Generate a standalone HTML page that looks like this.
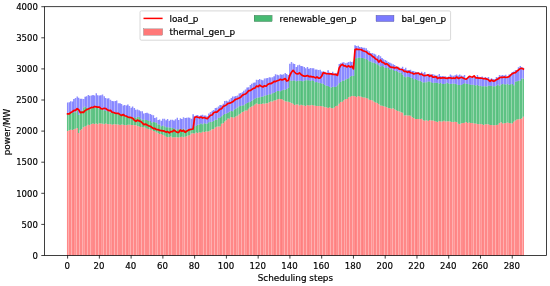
<!DOCTYPE html>
<html lang="en"><head><meta charset="utf-8"><title>Scheduling chart</title>
<style>html,body{margin:0;padding:0;background:#fff;overflow:hidden}body{width:550px;height:286px}</style>
</head><body>
<svg width="550" height="286" viewBox="0 0 550 286" style="display:block">
<rect x="0" y="0" width="550" height="286" fill="#fff"/>
<path d="M66.96 255.50V131.07H68.39V255.50zM68.39 255.50V130.28H69.98V255.50zM69.98 255.50V129.86H71.57V255.50zM71.57 255.50V129.95H73.16V255.50zM73.16 255.50V129.22H74.75V255.50zM74.75 255.50V128.70H76.33V255.50zM76.33 255.50V128.04H77.92V255.50zM77.92 255.50V132.92H79.51V255.50zM79.51 255.50V130.30H81.10V255.50zM81.10 255.50V129.04H82.69V255.50zM82.69 255.50V127.00H84.27V255.50zM84.27 255.50V126.54H85.86V255.50zM85.86 255.50V125.69H87.45V255.50zM87.45 255.50V124.78H89.04V255.50zM89.04 255.50V124.89H90.63V255.50zM90.63 255.50V123.98H92.21V255.50zM92.21 255.50V123.57H93.80V255.50zM93.80 255.50V124.06H95.39V255.50zM95.39 255.50V123.46H96.98V255.50zM96.98 255.50V124.15H98.57V255.50zM98.57 255.50V123.32H100.15V255.50zM100.15 255.50V123.44H101.74V255.50zM101.74 255.50V123.79H103.33V255.50zM103.33 255.50V124.26H104.92V255.50zM104.92 255.50V123.55H106.51V255.50zM106.51 255.50V124.05H108.09V255.50zM108.09 255.50V124.16H109.68V255.50zM109.68 255.50V124.08H111.27V255.50zM111.27 255.50V124.85H112.86V255.50zM112.86 255.50V124.25H114.45V255.50zM114.45 255.50V124.15H116.03V255.50zM116.03 255.50V124.42H117.62V255.50zM117.62 255.50V124.55H119.21V255.50zM119.21 255.50V124.97H120.80V255.50zM120.80 255.50V124.55H122.39V255.50zM122.39 255.50V124.76H123.97V255.50zM123.97 255.50V124.89H125.56V255.50zM125.56 255.50V125.14H127.15V255.50zM127.15 255.50V124.77H128.74V255.50zM128.74 255.50V124.72H130.33V255.50zM130.33 255.50V125.06H131.91V255.50zM131.91 255.50V124.97H133.50V255.50zM133.50 255.50V125.14H135.09V255.50zM135.09 255.50V125.36H136.68V255.50zM136.68 255.50V126.08H138.27V255.50zM138.27 255.50V126.52H139.85V255.50zM139.85 255.50V126.89H141.44V255.50zM141.44 255.50V127.05H143.03V255.50zM143.03 255.50V127.38H144.62V255.50zM144.62 255.50V127.76H146.21V255.50zM146.21 255.50V128.68H147.79V255.50zM147.79 255.50V129.00H149.38V255.50zM149.38 255.50V129.85H150.97V255.50zM150.97 255.50V129.86H152.56V255.50zM152.56 255.50V131.09H154.15V255.50zM154.15 255.50V131.57H155.73V255.50zM155.73 255.50V132.62H157.32V255.50zM157.32 255.50V133.20H158.91V255.50zM158.91 255.50V134.00H160.50V255.50zM160.50 255.50V133.92H162.09V255.50zM162.09 255.50V134.99H163.67V255.50zM163.67 255.50V135.81H165.26V255.50zM165.26 255.50V136.71H166.85V255.50zM166.85 255.50V137.26H168.44V255.50zM168.44 255.50V136.89H170.03V255.50zM170.03 255.50V136.55H171.61V255.50zM171.61 255.50V137.52H173.20V255.50zM173.20 255.50V137.36H174.79V255.50zM174.79 255.50V137.13H176.38V255.50zM176.38 255.50V137.27H177.97V255.50zM177.97 255.50V137.52H179.55V255.50zM179.55 255.50V136.93H181.14V255.50zM181.14 255.50V136.64H182.73V255.50zM182.73 255.50V137.30H184.32V255.50zM184.32 255.50V136.68H185.91V255.50zM185.91 255.50V136.17H187.49V255.50zM187.49 255.50V135.42H189.08V255.50zM189.08 255.50V135.10H190.67V255.50zM190.67 255.50V133.50H192.26V255.50zM192.26 255.50V133.29H193.85V255.50zM193.85 255.50V133.45H195.43V255.50zM195.43 255.50V132.62H197.02V255.50zM197.02 255.50V133.00H198.61V255.50zM198.61 255.50V132.17H200.20V255.50zM200.20 255.50V132.64H201.79V255.50zM201.79 255.50V131.80H203.37V255.50zM203.37 255.50V132.03H204.96V255.50zM204.96 255.50V131.49H206.55V255.50zM206.55 255.50V131.62H208.14V255.50zM208.14 255.50V131.25H209.73V255.50zM209.73 255.50V130.46H211.31V255.50zM211.31 255.50V129.13H212.90V255.50zM212.90 255.50V129.01H214.49V255.50zM214.49 255.50V127.41H216.08V255.50zM216.08 255.50V126.76H217.67V255.50zM217.67 255.50V126.54H219.25V255.50zM219.25 255.50V126.61H220.84V255.50zM220.84 255.50V123.78H222.43V255.50zM222.43 255.50V123.15H224.02V255.50zM224.02 255.50V121.52H225.61V255.50zM225.61 255.50V120.30H227.19V255.50zM227.19 255.50V118.43H228.78V255.50zM228.78 255.50V118.71H230.37V255.50zM230.37 255.50V117.10H231.96V255.50zM231.96 255.50V117.39H233.55V255.50zM233.55 255.50V117.42H235.13V255.50zM235.13 255.50V116.60H236.72V255.50zM236.72 255.50V115.80H238.31V255.50zM238.31 255.50V114.52H239.90V255.50zM239.90 255.50V113.42H241.49V255.50zM241.49 255.50V111.98H243.07V255.50zM243.07 255.50V111.38H244.66V255.50zM244.66 255.50V110.60H246.25V255.50zM246.25 255.50V110.45H247.84V255.50zM247.84 255.50V108.64H249.43V255.50zM249.43 255.50V107.28H251.01V255.50zM251.01 255.50V106.52H252.60V255.50zM252.60 255.50V105.77H254.19V255.50zM254.19 255.50V104.51H255.78V255.50zM255.78 255.50V103.51H257.37V255.50zM257.37 255.50V104.15H258.95V255.50zM258.95 255.50V104.10H260.54V255.50zM260.54 255.50V104.08H262.13V255.50zM262.13 255.50V103.55H263.72V255.50zM263.72 255.50V103.67H265.31V255.50zM265.31 255.50V103.35H266.89V255.50zM266.89 255.50V103.14H268.48V255.50zM268.48 255.50V102.30H270.07V255.50zM270.07 255.50V101.55H271.66V255.50zM271.66 255.50V101.48H273.25V255.50zM273.25 255.50V100.53H274.83V255.50zM274.83 255.50V100.13H276.42V255.50zM276.42 255.50V99.52H278.01V255.50zM278.01 255.50V98.89H279.60V255.50zM279.60 255.50V98.96H281.19V255.50zM281.19 255.50V99.33H282.77V255.50zM282.77 255.50V100.18H284.36V255.50zM284.36 255.50V101.20H285.95V255.50zM285.95 255.50V101.52H287.54V255.50zM287.54 255.50V101.83H289.13V255.50zM289.13 255.50V102.32H290.71V255.50zM290.71 255.50V103.09H292.30V255.50zM292.30 255.50V103.68H293.89V255.50zM293.89 255.50V104.94H295.48V255.50zM295.48 255.50V104.54H297.07V255.50zM297.07 255.50V104.43H298.65V255.50zM298.65 255.50V105.44H300.24V255.50zM300.24 255.50V104.70H301.83V255.50zM301.83 255.50V105.29H303.42V255.50zM303.42 255.50V105.51H305.01V255.50zM305.01 255.50V105.94H306.59V255.50zM306.59 255.50V104.97H308.18V255.50zM308.18 255.50V105.55H309.77V255.50zM309.77 255.50V105.34H311.36V255.50zM311.36 255.50V104.94H312.95V255.50zM312.95 255.50V105.60H314.53V255.50zM314.53 255.50V105.81H316.12V255.50zM316.12 255.50V106.09H317.71V255.50zM317.71 255.50V105.99H319.30V255.50zM319.30 255.50V106.00H320.89V255.50zM320.89 255.50V106.28H322.47V255.50zM322.47 255.50V106.60H324.06V255.50zM324.06 255.50V107.15H325.65V255.50zM325.65 255.50V107.31H327.24V255.50zM327.24 255.50V107.89H328.83V255.50zM328.83 255.50V107.37H330.41V255.50zM330.41 255.50V108.00H332.00V255.50zM332.00 255.50V108.18H333.59V255.50zM333.59 255.50V107.42H335.18V255.50zM335.18 255.50V106.10H336.77V255.50zM336.77 255.50V105.77H338.35V255.50zM338.35 255.50V103.70H339.94V255.50zM339.94 255.50V102.11H341.53V255.50zM341.53 255.50V101.70H343.12V255.50zM343.12 255.50V100.15H344.71V255.50zM344.71 255.50V99.08H346.29V255.50zM346.29 255.50V98.98H347.88V255.50zM347.88 255.50V97.36H349.47V255.50zM349.47 255.50V96.77H351.06V255.50zM351.06 255.50V95.91H352.65V255.50zM352.65 255.50V95.89H354.23V255.50zM354.23 255.50V96.26H355.82V255.50zM355.82 255.50V96.89H357.41V255.50zM357.41 255.50V96.10H359.00V255.50zM359.00 255.50V96.48H360.59V255.50zM360.59 255.50V96.83H362.17V255.50zM362.17 255.50V97.44H363.76V255.50zM363.76 255.50V97.42H365.35V255.50zM365.35 255.50V97.95H366.94V255.50zM366.94 255.50V98.62H368.53V255.50zM368.53 255.50V99.86H370.11V255.50zM370.11 255.50V100.05H371.70V255.50zM371.70 255.50V100.59H373.29V255.50zM373.29 255.50V101.86H374.88V255.50zM374.88 255.50V102.39H376.47V255.50zM376.47 255.50V103.05H378.05V255.50zM378.05 255.50V104.14H379.64V255.50zM379.64 255.50V105.39H381.23V255.50zM381.23 255.50V105.69H382.82V255.50zM382.82 255.50V106.15H384.41V255.50zM384.41 255.50V106.64H385.99V255.50zM385.99 255.50V107.18H387.58V255.50zM387.58 255.50V107.88H389.17V255.50zM389.17 255.50V108.14H390.76V255.50zM390.76 255.50V108.65H392.35V255.50zM392.35 255.50V108.27H393.93V255.50zM393.93 255.50V109.51H395.52V255.50zM395.52 255.50V110.22H397.11V255.50zM397.11 255.50V110.93H398.70V255.50zM398.70 255.50V111.52H400.29V255.50zM400.29 255.50V112.20H401.87V255.50zM401.87 255.50V112.77H403.46V255.50zM403.46 255.50V115.50H405.05V255.50zM405.05 255.50V115.13H406.64V255.50zM406.64 255.50V115.49H408.23V255.50zM408.23 255.50V115.49H409.81V255.50zM409.81 255.50V115.84H411.40V255.50zM411.40 255.50V117.23H412.99V255.50zM412.99 255.50V117.93H414.58V255.50zM414.58 255.50V119.02H416.17V255.50zM416.17 255.50V119.02H417.75V255.50zM417.75 255.50V118.88H419.34V255.50zM419.34 255.50V119.12H420.93V255.50zM420.93 255.50V118.64H422.52V255.50zM422.52 255.50V120.17H424.11V255.50zM424.11 255.50V120.79H425.69V255.50zM425.69 255.50V120.20H427.28V255.50zM427.28 255.50V120.97H428.87V255.50zM428.87 255.50V120.10H430.46V255.50zM430.46 255.50V120.45H432.05V255.50zM432.05 255.50V120.58H433.63V255.50zM433.63 255.50V121.00H435.22V255.50zM435.22 255.50V121.51H436.81V255.50zM436.81 255.50V121.90H438.40V255.50zM438.40 255.50V120.99H439.99V255.50zM439.99 255.50V121.53H441.57V255.50zM441.57 255.50V121.48H443.16V255.50zM443.16 255.50V120.76H444.75V255.50zM444.75 255.50V121.38H446.34V255.50zM446.34 255.50V121.19H447.93V255.50zM447.93 255.50V121.27H449.51V255.50zM449.51 255.50V121.45H451.10V255.50zM451.10 255.50V121.95H452.69V255.50zM452.69 255.50V122.01H454.28V255.50zM454.28 255.50V121.65H455.87V255.50zM455.87 255.50V122.03H457.45V255.50zM457.45 255.50V123.79H459.04V255.50zM459.04 255.50V124.25H460.63V255.50zM460.63 255.50V123.21H462.22V255.50zM462.22 255.50V123.02H463.81V255.50zM463.81 255.50V122.77H465.39V255.50zM465.39 255.50V122.01H466.98V255.50zM466.98 255.50V123.11H468.57V255.50zM468.57 255.50V122.42H470.16V255.50zM470.16 255.50V122.98H471.75V255.50zM471.75 255.50V123.08H473.33V255.50zM473.33 255.50V123.40H474.92V255.50zM474.92 255.50V123.42H476.51V255.50zM476.51 255.50V123.93H478.10V255.50zM478.10 255.50V124.18H479.69V255.50zM479.69 255.50V123.93H481.27V255.50zM481.27 255.50V124.29H482.86V255.50zM482.86 255.50V124.89H484.45V255.50zM484.45 255.50V124.21H486.04V255.50zM486.04 255.50V124.35H487.63V255.50zM487.63 255.50V124.37H489.21V255.50zM489.21 255.50V124.89H490.80V255.50zM490.80 255.50V124.90H492.39V255.50zM492.39 255.50V125.23H493.98V255.50zM493.98 255.50V125.36H495.57V255.50zM495.57 255.50V124.95H497.15V255.50zM497.15 255.50V124.83H498.74V255.50zM498.74 255.50V123.10H500.33V255.50zM500.33 255.50V122.32H501.92V255.50zM501.92 255.50V123.39H503.51V255.50zM503.51 255.50V123.14H505.09V255.50zM505.09 255.50V123.10H506.68V255.50zM506.68 255.50V122.49H508.27V255.50zM508.27 255.50V123.03H509.86V255.50zM509.86 255.50V123.15H511.45V255.50zM511.45 255.50V123.41H513.03V255.50zM513.03 255.50V121.82H514.62V255.50zM514.62 255.50V120.43H516.21V255.50zM516.21 255.50V119.46H517.80V255.50zM517.80 255.50V119.34H519.39V255.50zM519.39 255.50V118.97H520.97V255.50zM520.97 255.50V118.59H522.56V255.50zM522.56 255.50V116.70H523.99V255.50z" fill="rgb(255,0,0)" fill-opacity="0.53"/>
<path d="M66.96 131.07V112.95H68.39V131.07zM68.39 130.28V112.38H69.98V130.28zM69.98 129.86V111.94H71.57V129.86zM71.57 129.95V112.89H73.16V129.95zM73.16 129.22V112.36H74.75V129.22zM74.75 128.70V112.21H76.33V128.70zM76.33 128.04V110.37H77.92V128.04zM77.92 132.92V114.92H79.51V132.92zM79.51 130.30V111.06H81.10V130.30zM81.10 129.04V110.38H82.69V129.04zM82.69 127.00V107.59H84.27V127.00zM84.27 126.54V106.50H85.86V126.54zM85.86 125.69V107.85H87.45V125.69zM87.45 124.78V108.47H89.04V124.78zM89.04 124.89V108.13H90.63V124.89zM90.63 123.98V107.19H92.21V123.98zM92.21 123.57V107.84H93.80V123.57zM93.80 124.06V107.90H95.39V124.06zM95.39 123.46V107.17H96.98V123.46zM96.98 124.15V107.71H98.57V124.15zM98.57 123.32V108.80H100.15V123.32zM100.15 123.44V108.65H101.74V123.44zM101.74 123.79V109.86H103.33V123.79zM103.33 124.26V110.14H104.92V124.26zM104.92 123.55V110.98H106.51V123.55zM106.51 124.05V111.03H108.09V124.05zM108.09 124.16V111.43H109.68V124.16zM109.68 124.08V112.58H111.27V124.08zM111.27 124.85V111.98H112.86V124.85zM112.86 124.25V113.11H114.45V124.25zM114.45 124.15V112.87H116.03V124.15zM116.03 124.42V113.82H117.62V124.42zM117.62 124.55V112.93H119.21V124.55zM119.21 124.97V113.98H120.80V124.97zM120.80 124.55V114.19H122.39V124.55zM122.39 124.76V114.59H123.97V124.76zM123.97 124.89V115.92H125.56V124.89zM125.56 125.14V116.77H127.15V125.14zM127.15 124.77V116.54H128.74V124.77zM128.74 124.72V116.58H130.33V124.72zM130.33 125.06V117.38H131.91V125.06zM131.91 124.97V117.62H133.50V124.97zM133.50 125.14V117.33H135.09V125.14zM135.09 125.36V118.01H136.68V125.36zM136.68 126.08V117.11H138.27V126.08zM138.27 126.52V116.74H139.85V126.52zM139.85 126.89V118.44H141.44V126.89zM141.44 127.05V119.73H143.03V127.05zM143.03 127.38V119.49H144.62V127.38zM144.62 127.76V120.02H146.21V127.76zM146.21 128.68V120.12H147.79V128.68zM147.79 129.00V121.05H149.38V129.00zM149.38 129.85V121.11H150.97V129.85zM150.97 129.86V122.54H152.56V129.86zM152.56 131.09V121.96H154.15V131.09zM154.15 131.57V122.25H155.73V131.57zM155.73 132.62V122.93H157.32V132.62zM157.32 133.20V124.54H158.91V133.20zM158.91 134.00V124.42H160.50V134.00zM160.50 133.92V126.22H162.09V133.92zM162.09 134.99V125.57H163.67V134.99zM163.67 135.81V126.26H165.26V135.81zM165.26 136.71V127.17H166.85V136.71zM166.85 137.26V127.24H168.44V137.26zM168.44 136.89V127.58H170.03V136.89zM170.03 136.55V127.54H171.61V136.55zM171.61 137.52V128.10H173.20V137.52zM173.20 137.36V128.32H174.79V137.36zM174.79 137.13V129.39H176.38V137.13zM176.38 137.27V129.36H177.97V137.27zM177.97 137.52V129.21H179.55V137.52zM179.55 136.93V129.03H181.14V136.93zM181.14 136.64V129.25H182.73V136.64zM182.73 137.30V128.80H184.32V137.30zM184.32 136.68V129.79H185.91V136.68zM185.91 136.17V129.58H187.49V136.17zM187.49 135.42V129.20H189.08V135.42zM189.08 135.10V129.20H190.67V135.10zM190.67 133.50V128.74H192.26V133.50zM192.26 133.29V128.05H193.85V133.29zM193.85 133.45V126.22H195.43V133.45zM195.43 132.62V126.06H197.02V132.62zM197.02 133.00V124.72H198.61V133.00zM198.61 132.17V124.48H200.20V132.17zM200.20 132.64V123.60H201.79V132.64zM201.79 131.80V124.35H203.37V131.80zM203.37 132.03V123.32H204.96V132.03zM204.96 131.49V123.67H206.55V131.49zM206.55 131.62V123.43H208.14V131.62zM208.14 131.25V122.34H209.73V131.25zM209.73 130.46V122.06H211.31V130.46zM211.31 129.13V121.67H212.90V129.13zM212.90 129.01V120.95H214.49V129.01zM214.49 127.41V119.68H216.08V127.41zM216.08 126.76V119.68H217.67V126.76zM217.67 126.54V117.98H219.25V126.54zM219.25 126.61V117.43H220.84V126.61zM220.84 123.78V116.31H222.43V123.78zM222.43 123.15V115.06H224.02V123.15zM224.02 121.52V113.98H225.61V121.52zM225.61 120.30V113.56H227.19V120.30zM227.19 118.43V112.71H228.78V118.43zM228.78 118.71V111.75H230.37V118.71zM230.37 117.10V111.04H231.96V117.10zM231.96 117.39V111.15H233.55V117.39zM233.55 117.42V109.52H235.13V117.42zM235.13 116.60V108.55H236.72V116.60zM236.72 115.80V107.38H238.31V115.80zM238.31 114.52V106.24H239.90V114.52zM239.90 113.42V105.97H241.49V113.42zM241.49 111.98V105.48H243.07V111.98zM243.07 111.38V105.16H244.66V111.38zM244.66 110.60V104.06H246.25V110.60zM246.25 110.45V103.09H247.84V110.45zM247.84 108.64V102.20H249.43V108.64zM249.43 107.28V102.11H251.01V107.28zM251.01 106.52V100.80H252.60V106.52zM252.60 105.77V99.70H254.19V105.77zM254.19 104.51V98.41H255.78V104.51zM255.78 103.51V98.12H257.37V103.51zM257.37 104.15V97.53H258.95V104.15zM258.95 104.10V97.26H260.54V104.10zM260.54 104.08V96.81H262.13V104.08zM262.13 103.55V96.60H263.72V103.55zM263.72 103.67V95.73H265.31V103.67zM265.31 103.35V95.32H266.89V103.35zM266.89 103.14V94.99H268.48V103.14zM268.48 102.30V94.18H270.07V102.30zM270.07 101.55V94.15H271.66V101.55zM271.66 101.48V93.19H273.25V101.48zM273.25 100.53V92.83H274.83V100.53zM274.83 100.13V92.03H276.42V100.13zM276.42 99.52V91.05H278.01V99.52zM278.01 98.89V91.04H279.60V98.89zM279.60 98.96V91.24H281.19V98.96zM281.19 99.33V90.16H282.77V99.33zM282.77 100.18V89.86H284.36V100.18zM284.36 101.20V89.68H285.95V101.20zM285.95 101.52V88.94H287.54V101.52zM287.54 101.83V87.82H289.13V101.83zM289.13 102.32V80.27H290.71V102.32zM290.71 103.09V81.06H292.30V103.09zM292.30 103.68V80.48H293.89V103.68zM293.89 104.94V80.40H295.48V104.94zM295.48 104.54V81.25H297.07V104.54zM297.07 104.43V80.81H298.65V104.43zM298.65 105.44V80.79H300.24V105.44zM300.24 104.70V80.69H301.83V104.70zM301.83 105.29V81.32H303.42V105.29zM303.42 105.51V80.86H305.01V105.51zM305.01 105.94V80.37H306.59V105.94zM306.59 104.97V80.33H308.18V104.97zM308.18 105.55V80.15H309.77V105.55zM309.77 105.34V80.99H311.36V105.34zM311.36 104.94V80.20H312.95V104.94zM312.95 105.60V81.02H314.53V105.60zM314.53 105.81V82.24H316.12V105.81zM316.12 106.09V81.91H317.71V106.09zM317.71 105.99V82.79H319.30V105.99zM319.30 106.00V82.92H320.89V106.00zM320.89 106.28V83.62H322.47V106.28zM322.47 106.60V83.83H324.06V106.60zM324.06 107.15V84.88H325.65V107.15zM325.65 107.31V85.78H327.24V107.31zM327.24 107.89V86.01H328.83V107.89zM328.83 107.37V86.98H330.41V107.37zM330.41 108.00V87.62H332.00V108.00zM332.00 108.18V86.67H333.59V108.18zM333.59 107.42V86.98H335.18V107.42zM335.18 106.10V86.74H336.77V106.10zM336.77 105.77V85.20H338.35V105.77zM338.35 103.70V83.26H339.94V103.70zM339.94 102.11V82.12H341.53V102.11zM341.53 101.70V80.41H343.12V101.70zM343.12 100.15V80.65H344.71V100.15zM344.71 99.08V79.51H346.29V99.08zM346.29 98.98V79.12H347.88V98.98zM347.88 97.36V78.14H349.47V97.36zM349.47 96.77V76.54H351.06V96.77zM351.06 95.91V75.96H352.65V95.91zM352.65 95.89V75.72H354.23V95.89zM354.23 96.26V58.20H355.82V96.26zM355.82 96.89V58.20H357.41V96.89zM357.41 96.10V57.87H359.00V96.10zM359.00 96.48V57.61H360.59V96.48zM360.59 96.83V58.05H362.17V96.83zM362.17 97.44V58.05H363.76V97.44zM363.76 97.42V58.40H365.35V97.42zM365.35 97.95V58.89H366.94V97.95zM366.94 98.62V59.93H368.53V98.62zM368.53 99.86V61.17H370.11V99.86zM370.11 100.05V61.49H371.70V100.05zM371.70 100.59V62.60H373.29V100.59zM373.29 101.86V62.73H374.88V101.86zM374.88 102.39V63.60H376.47V102.39zM376.47 103.05V64.17H378.05V103.05zM378.05 104.14V65.22H379.64V104.14zM379.64 105.39V66.41H381.23V105.39zM381.23 105.69V66.02H382.82V105.69zM382.82 106.15V66.57H384.41V106.15zM384.41 106.64V68.12H385.99V106.64zM385.99 107.18V67.99H387.58V107.18zM387.58 107.88V68.06H389.17V107.88zM389.17 108.14V69.38H390.76V108.14zM390.76 108.65V68.79H392.35V108.65zM392.35 108.27V70.06H393.93V108.27zM393.93 109.51V70.93H395.52V109.51zM395.52 110.22V70.65H397.11V110.22zM397.11 110.93V71.68H398.70V110.93zM398.70 111.52V72.67H400.29V111.52zM400.29 112.20V72.73H401.87V112.20zM401.87 112.77V74.69H403.46V112.77zM403.46 115.50V76.62H405.05V115.50zM405.05 115.13V77.22H406.64V115.13zM406.64 115.49V76.43H408.23V115.49zM408.23 115.49V77.12H409.81V115.49zM409.81 115.84V77.60H411.40V115.84zM411.40 117.23V78.08H412.99V117.23zM412.99 117.93V79.18H414.58V117.93zM414.58 119.02V79.04H416.17V119.02zM416.17 119.02V79.91H417.75V119.02zM417.75 118.88V80.52H419.34V118.88zM419.34 119.12V80.80H420.93V119.12zM420.93 118.64V81.77H422.52V118.64zM422.52 120.17V82.51H424.11V120.17zM424.11 120.79V82.23H425.69V120.79zM425.69 120.20V82.33H427.28V120.20zM427.28 120.97V81.54H428.87V120.97zM428.87 120.10V81.49H430.46V120.10zM430.46 120.45V82.31H432.05V120.45zM432.05 120.58V82.92H433.63V120.58zM433.63 121.00V82.74H435.22V121.00zM435.22 121.51V82.67H436.81V121.51zM436.81 121.90V83.04H438.40V121.90zM438.40 120.99V83.59H439.99V120.99zM439.99 121.53V82.96H441.57V121.53zM441.57 121.48V84.04H443.16V121.48zM443.16 120.76V83.91H444.75V120.76zM444.75 121.38V83.45H446.34V121.38zM446.34 121.19V82.73H447.93V121.19zM447.93 121.27V83.48H449.51V121.27zM449.51 121.45V84.12H451.10V121.45zM451.10 121.95V83.63H452.69V121.95zM452.69 122.01V83.70H454.28V122.01zM454.28 121.65V83.71H455.87V121.65zM455.87 122.03V84.32H457.45V122.03zM457.45 123.79V84.88H459.04V123.79zM459.04 124.25V85.07H460.63V124.25zM460.63 123.21V84.97H462.22V123.21zM462.22 123.02V84.01H463.81V123.02zM463.81 122.77V83.31H465.39V122.77zM465.39 122.01V83.85H466.98V122.01zM466.98 123.11V84.11H468.57V123.11zM468.57 122.42V84.28H470.16V122.42zM470.16 122.98V84.69H471.75V122.98zM471.75 123.08V84.75H473.33V123.08zM473.33 123.40V85.09H474.92V123.40zM474.92 123.42V85.43H476.51V123.42zM476.51 123.93V85.08H478.10V123.93zM478.10 124.18V85.69H479.69V124.18zM479.69 123.93V86.08H481.27V123.93zM481.27 124.29V86.32H482.86V124.29zM482.86 124.89V86.18H484.45V124.89zM484.45 124.21V86.23H486.04V124.21zM486.04 124.35V86.57H487.63V124.35zM487.63 124.37V85.65H489.21V124.37zM489.21 124.89V85.87H490.80V124.89zM490.80 124.90V86.12H492.39V124.90zM492.39 125.23V86.33H493.98V125.23zM493.98 125.36V86.34H495.57V125.36zM495.57 124.95V85.78H497.15V124.95zM497.15 124.83V84.43H498.74V124.83zM498.74 123.10V85.63H500.33V123.10zM500.33 122.32V84.43H501.92V122.32zM501.92 123.39V83.93H503.51V123.39zM503.51 123.14V84.18H505.09V123.14zM505.09 123.10V84.38H506.68V123.10zM506.68 122.49V84.01H508.27V122.49zM508.27 123.03V84.74H509.86V123.03zM509.86 123.15V84.26H511.45V123.15zM511.45 123.41V84.08H513.03V123.41zM513.03 121.82V85.15H514.62V121.82zM514.62 120.43V81.71H516.21V120.43zM516.21 119.46V81.23H517.80V119.46zM517.80 119.34V80.78H519.39V119.34zM519.39 118.97V80.53H520.97V118.97zM520.97 118.59V78.60H522.56V118.59zM522.56 116.70V78.79H523.99V116.70z" fill="rgb(0,160,60)" fill-opacity="0.72"/>
<path d="M66.96 112.95V102.40H68.39V112.95zM68.39 112.38V102.16H69.98V112.38zM69.98 111.94V101.17H71.57V111.94zM71.57 112.89V101.39H73.16V112.89zM73.16 112.36V98.96H74.75V112.36zM74.75 112.21V97.90H76.33V112.21zM76.33 110.37V96.58H77.92V110.37zM77.92 114.92V97.67H79.51V114.92zM79.51 111.06V98.66H81.10V111.06zM81.10 110.38V98.74H82.69V110.38zM82.69 107.59V99.11H84.27V107.59zM84.27 106.50V96.85H85.86V106.50zM85.86 107.85V96.23H87.45V107.85zM87.45 108.47V94.99H89.04V108.47zM89.04 108.13V95.71H90.63V108.13zM90.63 107.19V95.53H92.21V107.19zM92.21 107.84V95.12H93.80V107.84zM93.80 107.90V95.56H95.39V107.90zM95.39 107.17V93.36H96.98V107.17zM96.98 107.71V95.22H98.57V107.71zM98.57 108.80V95.60H100.15V108.80zM100.15 108.65V95.33H101.74V108.65zM101.74 109.86V94.54H103.33V109.86zM103.33 110.14V96.25H104.92V110.14zM104.92 110.98V97.97H106.51V110.98zM106.51 111.03V98.52H108.09V111.03zM108.09 111.43V98.31H109.68V111.43zM109.68 112.58V99.68H111.27V112.58zM111.27 111.98V100.91H112.86V111.98zM112.86 113.11V101.29H114.45V113.11zM114.45 112.87V101.00H116.03V112.87zM116.03 113.82V100.52H117.62V113.82zM117.62 112.93V103.35H119.21V112.93zM119.21 113.98V103.33H120.80V113.98zM120.80 114.19V103.90H122.39V114.19zM122.39 114.59V105.54H123.97V114.59zM123.97 115.92V104.98H125.56V115.92zM125.56 116.77V105.62H127.15V116.77zM127.15 116.54V104.57H128.74V116.54zM128.74 116.58V106.07H130.33V116.58zM130.33 117.38V107.74H131.91V117.38zM131.91 117.62V106.61H133.50V117.62zM133.50 117.33V108.04H135.09V117.33zM135.09 118.01V109.76H136.68V118.01zM136.68 117.11V109.59H138.27V117.11zM138.27 116.74V110.27H139.85V116.74zM139.85 118.44V111.16H141.44V118.44zM141.44 119.73V111.17H143.03V119.73zM143.03 119.49V113.62H144.62V119.49zM144.62 120.02V112.89H146.21V120.02zM146.21 120.12V112.68H147.79V120.12zM147.79 121.05V113.55H149.38V121.05zM149.38 121.11V114.10H150.97V121.11zM150.97 122.54V114.82H152.56V122.54zM152.56 121.96V115.27H154.15V121.96zM154.15 122.25V117.93H155.73V122.25zM155.73 122.93V117.19H157.32V122.93zM157.32 124.54V119.94H158.91V124.54zM158.91 124.42V119.49H160.50V124.42zM160.50 126.22V120.73H162.09V126.22zM162.09 125.57V118.78H163.67V125.57zM163.67 126.26V118.82H165.26V126.26zM165.26 127.17V120.23H166.85V127.17zM166.85 127.24V119.01H168.44V127.24zM168.44 127.58V120.67H170.03V127.58zM170.03 127.54V119.87H171.61V127.54zM171.61 128.10V119.70H173.20V128.10zM173.20 128.32V120.43H174.79V128.32zM174.79 129.39V119.13H176.38V129.39zM176.38 129.36V117.83H177.97V129.36zM177.97 129.21V119.88H179.55V129.21zM179.55 129.03V118.28H181.14V129.03zM181.14 129.25V118.91H182.73V129.25zM182.73 128.80V117.31H184.32V128.80zM184.32 129.79V118.10H185.91V129.79zM185.91 129.58V117.79H187.49V129.58zM187.49 129.20V117.62H189.08V129.20zM189.08 129.20V117.73H190.67V129.20zM190.67 128.74V118.77H192.26V128.74zM192.26 128.05V114.20H193.85V128.05zM193.85 126.22V116.31H195.43V126.22zM195.43 126.06V115.15H197.02V126.06zM197.02 124.72V114.91H198.61V124.72zM198.61 124.48V116.04H200.20V124.48zM200.20 123.60V115.35H201.79V123.60zM201.79 124.35V114.63H203.37V124.35zM203.37 123.32V115.57H204.96V123.32zM204.96 123.67V115.44H206.55V123.67zM206.55 123.43V116.17H208.14V123.43zM208.14 122.34V113.53H209.73V122.34zM209.73 122.06V112.05H211.31V122.06zM211.31 121.67V110.80H212.90V121.67zM212.90 120.95V109.98H214.49V120.95zM214.49 119.68V108.04H216.08V119.68zM216.08 119.68V107.81H217.67V119.68zM217.67 117.98V106.52H219.25V117.98zM219.25 117.43V104.98H220.84V117.43zM220.84 116.31V105.19H222.43V116.31zM222.43 115.06V103.79H224.02V115.06zM224.02 113.98V100.90H225.61V113.98zM225.61 113.56V100.81H227.19V113.56zM227.19 112.71V101.38H228.78V112.71zM228.78 111.75V99.43H230.37V111.75zM230.37 111.04V97.90H231.96V111.04zM231.96 111.15V96.49H233.55V111.15zM233.55 109.52V96.45H235.13V109.52zM235.13 108.55V96.11H236.72V108.55zM236.72 107.38V95.41H238.31V107.38zM238.31 106.24V93.53H239.90V106.24zM239.90 105.97V92.92H241.49V105.97zM241.49 105.48V92.24H243.07V105.48zM243.07 105.16V90.69H244.66V105.16zM244.66 104.06V89.55H246.25V104.06zM246.25 103.09V87.39H247.84V103.09zM247.84 102.20V87.14H249.43V102.20zM249.43 102.11V85.09H251.01V102.11zM251.01 100.80V83.65H252.60V100.80zM252.60 99.70V82.75H254.19V99.70zM254.19 98.41V82.56H255.78V98.41zM255.78 98.12V79.77H257.37V98.12zM257.37 97.53V80.10H258.95V97.53zM258.95 97.26V79.04H260.54V97.26zM260.54 96.81V79.67H262.13V96.81zM262.13 96.60V80.17H263.72V96.60zM263.72 95.73V78.45H265.31V95.73zM265.31 95.32V78.16H266.89V95.32zM266.89 94.99V78.10H268.48V94.99zM268.48 94.18V77.36H270.07V94.18zM270.07 94.15V77.58H271.66V94.15zM271.66 93.19V77.18H273.25V93.19zM273.25 92.83V76.28H274.83V92.83zM274.83 92.03V74.26H276.42V92.03zM276.42 91.05V74.69H278.01V91.05zM278.01 91.04V75.35H279.60V91.04zM279.60 91.24V74.21H281.19V91.24zM281.19 90.16V74.65H282.77V90.16zM282.77 89.86V74.30H284.36V89.86zM284.36 89.68V72.99H285.95V89.68zM285.95 88.94V74.02H287.54V88.94zM287.54 87.82V74.88H289.13V87.82zM289.13 80.27V63.66H290.71V80.27zM290.71 81.06V62.12H292.30V81.06zM292.30 80.48V63.50H293.89V80.48zM293.89 80.40V64.08H295.48V80.40zM295.48 81.25V66.95H297.07V81.25zM297.07 80.81V65.21H298.65V80.81zM298.65 80.79V64.79H300.24V80.79zM300.24 80.69V66.09H301.83V80.69zM301.83 81.32V66.22H303.42V81.32zM303.42 80.86V67.00H305.01V80.86zM305.01 80.37V68.17H306.59V80.37zM306.59 80.33V66.89H308.18V80.33zM308.18 80.15V68.77H309.77V80.15zM309.77 80.99V67.97H311.36V80.99zM311.36 80.20V68.18H312.95V80.20zM312.95 81.02V68.27H314.53V81.02zM314.53 82.24V69.59H316.12V82.24zM316.12 81.91V69.53H317.71V81.91zM317.71 82.79V70.07H319.30V82.79zM319.30 82.92V69.69H320.89V82.92zM320.89 83.62V71.48H322.47V83.62zM322.47 83.83V71.15H324.06V83.83zM324.06 84.88V71.72H325.65V84.88zM325.65 85.78V72.81H327.24V85.78zM327.24 86.01V70.16H328.83V86.01zM328.83 86.98V72.53H330.41V86.98zM330.41 87.62V73.85H332.00V87.62zM332.00 86.67V71.85H333.59V86.67zM333.59 86.98V73.86H335.18V86.98zM335.18 86.74V72.94H336.77V86.74zM336.77 85.20V72.73H338.35V85.20zM338.35 83.26V64.10H339.94V83.26zM339.94 82.12V63.22H341.53V82.12zM341.53 80.41V62.59H343.12V80.41zM343.12 80.65V62.18H344.71V80.65zM344.71 79.51V63.19H346.29V79.51zM346.29 79.12V62.79H347.88V79.12zM347.88 78.14V62.02H349.47V78.14zM349.47 76.54V61.42H351.06V76.54zM351.06 75.96V62.00H352.65V75.96zM352.65 75.72V61.45H354.23V75.72zM354.23 58.20V45.31H355.82V58.20zM355.82 58.20V46.08H357.41V58.20zM357.41 57.87V45.67H359.00V57.87zM359.00 57.61V46.97H360.59V57.61zM360.59 58.05V46.99H362.17V58.05zM362.17 58.05V47.86H363.76V58.05zM363.76 58.40V47.72H365.35V58.40zM365.35 58.89V48.26H366.94V58.89zM366.94 59.93V50.18H368.53V59.93zM368.53 61.17V51.22H370.11V61.17zM370.11 61.49V52.95H371.70V61.49zM371.70 62.60V52.90H373.29V62.60zM373.29 62.73V53.64H374.88V62.73zM374.88 63.60V54.44H376.47V63.60zM376.47 64.17V56.15H378.05V64.17zM378.05 65.22V54.88H379.64V65.22zM379.64 66.41V56.27H381.23V66.41zM381.23 66.02V58.03H382.82V66.02zM382.82 66.57V59.15H384.41V66.57zM384.41 68.12V59.98H385.99V68.12zM385.99 67.99V60.73H387.58V67.99zM387.58 68.06V61.96H389.17V68.06zM389.17 69.38V62.69H390.76V69.38zM390.76 68.79V63.58H392.35V68.79zM392.35 70.06V64.24H393.93V70.06zM393.93 70.93V65.01H395.52V70.93zM395.52 70.65V66.43H397.11V70.65zM397.11 71.68V66.53H398.70V71.68zM398.70 72.67V67.59H400.29V72.67zM400.29 72.73V68.22H401.87V72.73zM401.87 74.69V66.84H403.46V74.69zM403.46 76.62V69.08H405.05V76.62zM405.05 77.22V67.72H406.64V77.22zM406.64 76.43V69.93H408.23V76.43zM408.23 77.12V69.95H409.81V77.12zM409.81 77.60V69.80H411.40V77.60zM411.40 78.08V71.00H412.99V78.08zM412.99 79.18V71.03H414.58V79.18zM414.58 79.04V71.82H416.17V79.04zM416.17 79.91V72.30H417.75V79.91zM417.75 80.52V72.38H419.34V80.52zM419.34 80.80V73.05H420.93V80.80zM420.93 81.77V71.64H422.52V81.77zM422.52 82.51V73.25H424.11V82.51zM424.11 82.23V72.10H425.69V82.23zM425.69 82.33V75.66H427.28V82.33zM427.28 81.54V73.91H428.87V81.54zM428.87 81.49V73.77H430.46V81.49zM430.46 82.31V74.72H432.05V82.31zM432.05 82.92V73.99H433.63V82.92zM433.63 82.74V74.64H435.22V82.74zM435.22 82.67V75.64H436.81V82.67zM436.81 83.04V75.42H438.40V83.04zM438.40 83.59V73.91H439.99V83.59zM439.99 82.96V75.89H441.57V82.96zM441.57 84.04V75.94H443.16V84.04zM443.16 83.91V76.56H444.75V83.91zM444.75 83.45V76.21H446.34V83.45zM446.34 82.73V77.35H447.93V82.73zM447.93 83.48V76.54H449.51V83.48zM449.51 84.12V74.48H451.10V84.12zM451.10 83.63V75.44H452.69V83.63zM452.69 83.70V75.68H454.28V83.70zM454.28 83.71V75.26H455.87V83.71zM455.87 84.32V74.61H457.45V84.32zM457.45 84.88V75.60H459.04V84.88zM459.04 85.07V74.57H460.63V85.07zM460.63 84.97V75.40H462.22V84.97zM462.22 84.01V76.15H463.81V84.01zM463.81 83.31V75.07H465.39V83.31zM465.39 83.85V78.19H466.98V83.85zM466.98 84.11V76.94H468.57V84.11zM468.57 84.28V76.40H470.16V84.28zM470.16 84.69V77.37H471.75V84.69zM471.75 84.75V76.89H473.33V84.75zM473.33 85.09V77.34H474.92V85.09zM474.92 85.43V77.45H476.51V85.43zM476.51 85.08V75.06H478.10V85.08zM478.10 85.69V76.73H479.69V85.69zM479.69 86.08V77.36H481.27V86.08zM481.27 86.32V76.46H482.86V86.32zM482.86 86.18V77.74H484.45V86.18zM484.45 86.23V77.10H486.04V86.23zM486.04 86.57V77.76H487.63V86.57zM487.63 85.65V77.06H489.21V85.65zM489.21 85.87V79.59H490.80V85.87zM490.80 86.12V78.22H492.39V86.12zM492.39 86.33V78.96H493.98V86.33zM493.98 86.34V79.34H495.57V86.34zM495.57 85.78V76.89H497.15V85.78zM497.15 84.43V77.55H498.74V84.43zM498.74 85.63V75.06H500.33V85.63zM500.33 84.43V75.48H501.92V84.43zM501.92 83.93V74.97H503.51V83.93zM503.51 84.18V75.43H505.09V84.18zM505.09 84.38V74.82H506.68V84.38zM506.68 84.01V76.89H508.27V84.01zM508.27 84.74V74.59H509.86V84.74zM509.86 84.26V73.89H511.45V84.26zM511.45 84.08V72.12H513.03V84.08zM513.03 85.15V71.45H514.62V85.15zM514.62 81.71V70.04H516.21V81.71zM516.21 81.23V70.21H517.80V81.23zM517.80 80.78V67.29H519.39V80.78zM519.39 80.53V66.01H520.97V80.53zM520.97 78.60V67.13H522.56V78.60zM522.56 78.79V67.67H523.99V78.79z" fill="rgb(0,0,255)" fill-opacity="0.52"/>
<path d="M280 73.2h1V255.5h-1zM282 73.2h1V255.5h-1zM307 65.9h1V255.5h-1zM309 65.9h1V255.5h-1zM334 71.9h1V255.5h-1zM336 71.9h1V255.5h-1zM354 44.3h1V255.5h-1zM356 44.3h1V255.5h-1zM381 57.0h1V255.5h-1zM383 57.0h1V255.5h-1zM408 68.8h1V255.5h-1zM410 68.8h1V255.5h-1z" fill="#fff" fill-opacity="0.01"/>
<path d="M92 94.1h1V255.5h-1zM94 94.1h1V255.5h-1zM199 114.4h1V255.5h-1zM201 114.4h1V255.5h-1zM226 99.8h1V255.5h-1zM228 99.8h1V255.5h-1zM253 81.6h1V255.5h-1zM255 81.6h1V255.5h-1zM335 71.9h1V255.5h-1zM355 44.3h1V255.5h-1zM435 74.4h1V255.5h-1zM437 74.4h1V255.5h-1zM462 74.1h1V255.5h-1zM464 74.1h1V255.5h-1zM489 77.2h1V255.5h-1zM491 77.2h1V255.5h-1z" fill="#fff" fill-opacity="0.02"/>
<path d="M118 102.3h1V255.5h-1zM120 102.3h1V255.5h-1zM119 102.3h1V255.5h-1zM121 102.3h1V255.5h-1zM145 111.7h1V255.5h-1zM147 111.7h1V255.5h-1zM146 111.7h1V255.5h-1zM148 111.7h1V255.5h-1zM172 118.7h1V255.5h-1zM174 118.7h1V255.5h-1zM173 118.1h1V255.5h-1zM175 118.1h1V255.5h-1zM515 69.0h1V255.5h-1zM517 69.0h1V255.5h-1zM516 66.3h1V255.5h-1zM518 66.3h1V255.5h-1z" fill="#fff" fill-opacity="0.03"/>
<path d="M91 94.1h1V255.5h-1zM93 94.1h1V255.5h-1zM200 113.6h1V255.5h-1zM202 113.6h1V255.5h-1zM227 98.4h1V255.5h-1zM229 98.4h1V255.5h-1zM254 78.8h1V255.5h-1zM256 78.8h1V255.5h-1zM308 65.9h1V255.5h-1zM382 57.0h1V255.5h-1zM434 73.6h1V255.5h-1zM436 73.6h1V255.5h-1zM461 74.4h1V255.5h-1zM463 74.4h1V255.5h-1zM488 76.1h1V255.5h-1zM490 76.1h1V255.5h-1z" fill="#fff" fill-opacity="0.04"/>
<path d="M281 73.2h1V255.5h-1zM281 73.3h1V255.5h-1zM283 73.3h1V255.5h-1zM308 67.0h1V255.5h-1zM310 67.0h1V255.5h-1zM335 71.7h1V255.5h-1zM337 71.7h1V255.5h-1zM353 44.3h1V255.5h-1zM355 44.3h1V255.5h-1zM380 55.3h1V255.5h-1zM382 55.3h1V255.5h-1zM407 68.9h1V255.5h-1zM409 68.9h1V255.5h-1zM409 68.8h1V255.5h-1z" fill="#fff" fill-opacity="0.05"/>
<path d="M254 81.6h1V255.5h-1zM299 63.8h1V255.5h-1zM301 63.8h1V255.5h-1zM326 69.2h1V255.5h-1zM328 69.2h1V255.5h-1zM362 46.7h1V255.5h-1zM364 46.7h1V255.5h-1zM389 61.7h1V255.5h-1zM391 61.7h1V255.5h-1zM436 74.4h1V255.5h-1z" fill="#fff" fill-opacity="0.06"/>
<path d="M73 96.9h1V255.5h-1zM75 96.9h1V255.5h-1zM218 104.0h1V255.5h-1zM220 104.0h1V255.5h-1zM227 99.8h1V255.5h-1zM245 86.4h1V255.5h-1zM247 86.4h1V255.5h-1zM272 75.3h1V255.5h-1zM274 75.3h1V255.5h-1zM416 71.3h1V255.5h-1zM418 71.3h1V255.5h-1zM443 75.2h1V255.5h-1zM445 75.2h1V255.5h-1zM463 74.1h1V255.5h-1zM470 75.9h1V255.5h-1zM472 75.9h1V255.5h-1z" fill="#fff" fill-opacity="0.07"/>
<path d="M93 94.1h1V255.5h-1zM100 93.5h1V255.5h-1zM102 93.5h1V255.5h-1zM127 103.6h1V255.5h-1zM129 103.6h1V255.5h-1zM137 108.6h1V255.5h-1zM139 108.6h1V255.5h-1zM154 116.2h1V255.5h-1zM156 116.2h1V255.5h-1zM164 117.8h1V255.5h-1zM166 117.8h1V255.5h-1zM191 113.2h1V255.5h-1zM193 113.2h1V255.5h-1zM200 114.4h1V255.5h-1zM490 77.2h1V255.5h-1zM497 74.1h1V255.5h-1zM499 74.1h1V255.5h-1z" fill="#fff" fill-opacity="0.08"/>
<path d="M83 95.9h1V255.5h-1zM85 95.9h1V255.5h-1zM110 98.7h1V255.5h-1zM112 98.7h1V255.5h-1zM181 116.3h1V255.5h-1zM183 116.3h1V255.5h-1zM208 111.0h1V255.5h-1zM210 111.0h1V255.5h-1zM235 94.4h1V255.5h-1zM237 94.4h1V255.5h-1zM453 74.3h1V255.5h-1zM455 74.3h1V255.5h-1zM480 75.5h1V255.5h-1zM482 75.5h1V255.5h-1zM507 73.6h1V255.5h-1zM509 73.6h1V255.5h-1z" fill="#fff" fill-opacity="0.09"/>
<path d="M120 102.3h1V255.5h-1zM173 118.7h1V255.5h-1zM262 77.5h1V255.5h-1zM264 77.5h1V255.5h-1zM289 61.1h1V255.5h-1zM291 61.1h1V255.5h-1zM316 68.5h1V255.5h-1zM318 68.5h1V255.5h-1zM372 51.9h1V255.5h-1zM374 51.9h1V255.5h-1zM399 66.6h1V255.5h-1zM401 66.6h1V255.5h-1zM426 72.9h1V255.5h-1zM428 72.9h1V255.5h-1zM517 66.3h1V255.5h-1z" fill="#fff" fill-opacity="0.1"/>
<path d="M146 111.7h1V255.5h-1zM147 111.7h1V255.5h-1zM291 61.1h1V255.5h-1zM293 61.1h1V255.5h-1zM318 68.7h1V255.5h-1zM320 68.7h1V255.5h-1zM343 61.2h1V255.5h-1zM345 61.2h1V255.5h-1zM345 61.8h1V255.5h-1zM347 61.8h1V255.5h-1zM370 51.9h1V255.5h-1zM372 51.9h1V255.5h-1zM397 65.5h1V255.5h-1zM399 65.5h1V255.5h-1z" fill="#fff" fill-opacity="0.11"/>
<path d="M67 101.2h1V255.5h-1zM69 101.2h1V255.5h-1zM70 100.2h1V255.5h-1zM72 100.2h1V255.5h-1zM75 95.6h1V255.5h-1zM77 95.6h1V255.5h-1zM78 96.7h1V255.5h-1zM80 96.7h1V255.5h-1zM81 97.7h1V255.5h-1zM83 97.7h1V255.5h-1zM86 94.0h1V255.5h-1zM88 94.0h1V255.5h-1zM89 94.5h1V255.5h-1zM91 94.5h1V255.5h-1zM94 92.4h1V255.5h-1zM96 92.4h1V255.5h-1zM97 94.2h1V255.5h-1zM99 94.2h1V255.5h-1zM102 93.5h1V255.5h-1zM104 93.5h1V255.5h-1zM105 97.0h1V255.5h-1zM107 97.0h1V255.5h-1zM108 97.3h1V255.5h-1zM110 97.3h1V255.5h-1zM113 100.0h1V255.5h-1zM115 100.0h1V255.5h-1zM116 99.5h1V255.5h-1zM118 99.5h1V255.5h-1zM119 102.3h1V255.5h-1zM121 102.9h1V255.5h-1zM123 102.9h1V255.5h-1zM124 104.0h1V255.5h-1zM126 104.0h1V255.5h-1zM129 105.1h1V255.5h-1zM131 105.1h1V255.5h-1zM132 105.6h1V255.5h-1zM134 105.6h1V255.5h-1zM135 108.6h1V255.5h-1zM137 108.6h1V255.5h-1zM140 110.2h1V255.5h-1zM142 110.2h1V255.5h-1zM143 111.9h1V255.5h-1zM145 111.9h1V255.5h-1zM148 112.5h1V255.5h-1zM150 112.5h1V255.5h-1zM151 113.8h1V255.5h-1zM153 113.8h1V255.5h-1zM156 116.2h1V255.5h-1zM158 116.2h1V255.5h-1zM159 118.5h1V255.5h-1zM161 118.5h1V255.5h-1zM162 117.8h1V255.5h-1zM164 117.8h1V255.5h-1zM167 118.0h1V255.5h-1zM169 118.0h1V255.5h-1zM170 118.7h1V255.5h-1zM172 118.7h1V255.5h-1zM174 118.1h1V255.5h-1zM175 116.8h1V255.5h-1zM177 116.8h1V255.5h-1zM178 117.3h1V255.5h-1zM180 117.3h1V255.5h-1zM183 116.3h1V255.5h-1zM185 116.3h1V255.5h-1zM186 116.6h1V255.5h-1zM188 116.6h1V255.5h-1zM189 116.7h1V255.5h-1zM191 116.7h1V255.5h-1zM194 114.1h1V255.5h-1zM196 114.1h1V255.5h-1zM197 113.9h1V255.5h-1zM199 113.9h1V255.5h-1zM202 113.6h1V255.5h-1zM204 113.6h1V255.5h-1zM205 114.4h1V255.5h-1zM207 114.4h1V255.5h-1zM210 109.8h1V255.5h-1zM212 109.8h1V255.5h-1zM213 107.0h1V255.5h-1zM215 107.0h1V255.5h-1zM216 105.5h1V255.5h-1zM218 105.5h1V255.5h-1zM221 102.8h1V255.5h-1zM223 102.8h1V255.5h-1zM224 99.8h1V255.5h-1zM226 99.8h1V255.5h-1zM229 96.9h1V255.5h-1zM231 96.9h1V255.5h-1zM232 95.5h1V255.5h-1zM234 95.5h1V255.5h-1zM237 92.5h1V255.5h-1zM239 92.5h1V255.5h-1zM240 91.2h1V255.5h-1zM242 91.2h1V255.5h-1zM243 88.6h1V255.5h-1zM245 88.6h1V255.5h-1zM248 84.1h1V255.5h-1zM250 84.1h1V255.5h-1zM251 81.7h1V255.5h-1zM253 81.7h1V255.5h-1zM256 78.8h1V255.5h-1zM258 78.8h1V255.5h-1zM259 78.0h1V255.5h-1zM261 78.0h1V255.5h-1zM264 77.2h1V255.5h-1zM266 77.2h1V255.5h-1zM267 76.4h1V255.5h-1zM269 76.4h1V255.5h-1zM270 76.2h1V255.5h-1zM272 76.2h1V255.5h-1zM275 73.3h1V255.5h-1zM277 73.3h1V255.5h-1zM278 73.2h1V255.5h-1zM280 73.2h1V255.5h-1zM283 72.0h1V255.5h-1zM285 72.0h1V255.5h-1zM286 73.0h1V255.5h-1zM288 73.0h1V255.5h-1zM294 63.1h1V255.5h-1zM296 63.1h1V255.5h-1zM297 63.8h1V255.5h-1zM299 63.8h1V255.5h-1zM302 65.2h1V255.5h-1zM304 65.2h1V255.5h-1zM305 65.9h1V255.5h-1zM307 65.9h1V255.5h-1zM310 67.0h1V255.5h-1zM312 67.0h1V255.5h-1zM313 67.3h1V255.5h-1zM315 67.3h1V255.5h-1zM321 70.2h1V255.5h-1zM323 70.2h1V255.5h-1zM324 70.7h1V255.5h-1zM326 70.7h1V255.5h-1zM329 71.5h1V255.5h-1zM331 71.5h1V255.5h-1zM332 70.8h1V255.5h-1zM334 70.8h1V255.5h-1zM337 63.1h1V255.5h-1zM339 63.1h1V255.5h-1zM340 61.6h1V255.5h-1zM342 61.6h1V255.5h-1zM348 60.4h1V255.5h-1zM350 60.4h1V255.5h-1zM351 60.5h1V255.5h-1zM353 60.5h1V255.5h-1zM356 44.7h1V255.5h-1zM358 44.7h1V255.5h-1zM359 46.0h1V255.5h-1zM361 46.0h1V255.5h-1zM364 46.7h1V255.5h-1zM366 46.7h1V255.5h-1zM367 49.2h1V255.5h-1zM369 49.2h1V255.5h-1zM375 53.4h1V255.5h-1zM377 53.4h1V255.5h-1zM378 53.9h1V255.5h-1zM380 53.9h1V255.5h-1zM383 58.1h1V255.5h-1zM385 58.1h1V255.5h-1zM386 59.7h1V255.5h-1zM388 59.7h1V255.5h-1zM391 62.6h1V255.5h-1zM393 62.6h1V255.5h-1zM394 64.0h1V255.5h-1zM396 64.0h1V255.5h-1zM402 65.8h1V255.5h-1zM404 65.8h1V255.5h-1zM405 66.7h1V255.5h-1zM407 66.7h1V255.5h-1zM410 68.8h1V255.5h-1zM412 68.8h1V255.5h-1zM413 70.0h1V255.5h-1zM415 70.0h1V255.5h-1zM418 71.4h1V255.5h-1zM420 71.4h1V255.5h-1zM421 70.6h1V255.5h-1zM423 70.6h1V255.5h-1zM424 71.1h1V255.5h-1zM426 71.1h1V255.5h-1zM429 72.8h1V255.5h-1zM431 72.8h1V255.5h-1zM432 73.0h1V255.5h-1zM434 73.0h1V255.5h-1zM437 72.9h1V255.5h-1zM439 72.9h1V255.5h-1zM440 74.9h1V255.5h-1zM442 74.9h1V255.5h-1zM445 75.2h1V255.5h-1zM447 75.2h1V255.5h-1zM448 73.5h1V255.5h-1zM450 73.5h1V255.5h-1zM451 74.4h1V255.5h-1zM453 74.4h1V255.5h-1zM456 73.6h1V255.5h-1zM458 73.6h1V255.5h-1zM459 73.6h1V255.5h-1zM461 73.6h1V255.5h-1zM464 74.1h1V255.5h-1zM466 74.1h1V255.5h-1zM467 75.4h1V255.5h-1zM469 75.4h1V255.5h-1zM472 75.9h1V255.5h-1zM474 75.9h1V255.5h-1zM475 74.1h1V255.5h-1zM477 74.1h1V255.5h-1zM478 75.7h1V255.5h-1zM480 75.7h1V255.5h-1zM483 76.1h1V255.5h-1zM485 76.1h1V255.5h-1zM486 76.1h1V255.5h-1zM488 76.1h1V255.5h-1zM491 77.2h1V255.5h-1zM493 77.2h1V255.5h-1zM494 75.9h1V255.5h-1zM496 75.9h1V255.5h-1zM499 74.1h1V255.5h-1zM501 74.1h1V255.5h-1zM502 74.0h1V255.5h-1zM504 74.0h1V255.5h-1zM505 73.8h1V255.5h-1zM507 73.8h1V255.5h-1zM510 71.1h1V255.5h-1zM512 71.1h1V255.5h-1zM513 69.0h1V255.5h-1zM515 69.0h1V255.5h-1zM516 69.0h1V255.5h-1zM518 65.0h1V255.5h-1zM520 65.0h1V255.5h-1zM521 66.1h1V255.5h-1zM523 66.1h1V255.5h-1z" fill="#fff" fill-opacity="0.12"/>
<path d="M92 94.1h1V255.5h-1zM201 113.6h1V255.5h-1zM489 76.1h1V255.5h-1z" fill="#fff" fill-opacity="0.13"/>
<path d="M228 98.4h1V255.5h-1zM462 74.4h1V255.5h-1z" fill="#fff" fill-opacity="0.14"/>
<path d="M255 78.8h1V255.5h-1zM435 73.6h1V255.5h-1z" fill="#fff" fill-opacity="0.16"/>
<path d="M282 73.3h1V255.5h-1zM408 68.9h1V255.5h-1z" fill="#fff" fill-opacity="0.17"/>
<path d="M309 67.0h1V255.5h-1zM381 55.3h1V255.5h-1z" fill="#fff" fill-opacity="0.18"/>
<path d="M336 71.7h1V255.5h-1zM354 44.3h1V255.5h-1z" fill="#fff" fill-opacity="0.19"/>
<path d="M327 69.2h1V255.5h-1zM363 46.7h1V255.5h-1z" fill="#fff" fill-opacity="0.2"/>
<path d="M300 63.8h1V255.5h-1zM390 61.7h1V255.5h-1z" fill="#fff" fill-opacity="0.22"/>
<path d="M273 75.3h1V255.5h-1zM417 71.3h1V255.5h-1z" fill="#fff" fill-opacity="0.23"/>
<path d="M246 86.4h1V255.5h-1zM444 75.2h1V255.5h-1z" fill="#fff" fill-opacity="0.24"/>
<path d="M74 96.9h1V255.5h-1zM219 104.0h1V255.5h-1zM471 75.9h1V255.5h-1z" fill="#fff" fill-opacity="0.25"/>
<path d="M101 93.5h1V255.5h-1zM192 113.2h1V255.5h-1zM498 74.1h1V255.5h-1z" fill="#fff" fill-opacity="0.26"/>
<path d="M128 103.6h1V255.5h-1zM165 117.8h1V255.5h-1z" fill="#fff" fill-opacity="0.28"/>
<path d="M138 108.6h1V255.5h-1zM155 116.2h1V255.5h-1z" fill="#fff" fill-opacity="0.29"/>
<path d="M111 98.7h1V255.5h-1zM182 116.3h1V255.5h-1zM508 73.6h1V255.5h-1z" fill="#fff" fill-opacity="0.3"/>
<path d="M84 95.9h1V255.5h-1zM209 111.0h1V255.5h-1zM481 75.5h1V255.5h-1z" fill="#fff" fill-opacity="0.31"/>
<path d="M236 94.4h1V255.5h-1zM454 74.3h1V255.5h-1z" fill="#fff" fill-opacity="0.32"/>
<path d="M263 77.5h1V255.5h-1zM427 72.9h1V255.5h-1z" fill="#fff" fill-opacity="0.34"/>
<path d="M290 61.1h1V255.5h-1zM400 66.6h1V255.5h-1z" fill="#fff" fill-opacity="0.35"/>
<path d="M317 68.5h1V255.5h-1zM373 51.9h1V255.5h-1z" fill="#fff" fill-opacity="0.36"/>
<path d="M344 61.2h1V255.5h-1zM346 61.8h1V255.5h-1z" fill="#fff" fill-opacity="0.37"/>
<path d="M319 68.7h1V255.5h-1zM371 51.9h1V255.5h-1z" fill="#fff" fill-opacity="0.38"/>
<path d="M292 61.1h1V255.5h-1zM398 65.5h1V255.5h-1z" fill="#fff" fill-opacity="0.4"/>
<path d="M265 77.2h1V255.5h-1zM425 71.1h1V255.5h-1z" fill="#fff" fill-opacity="0.41"/>
<path d="M68 101.2h1V255.5h-1zM71 100.2h1V255.5h-1zM76 95.6h1V255.5h-1zM79 96.7h1V255.5h-1zM82 97.7h1V255.5h-1zM87 94.0h1V255.5h-1zM90 94.5h1V255.5h-1zM95 92.4h1V255.5h-1zM98 94.2h1V255.5h-1zM103 93.5h1V255.5h-1zM106 97.0h1V255.5h-1zM109 97.3h1V255.5h-1zM114 100.0h1V255.5h-1zM117 99.5h1V255.5h-1zM122 102.9h1V255.5h-1zM125 104.0h1V255.5h-1zM130 105.1h1V255.5h-1zM133 105.6h1V255.5h-1zM136 108.6h1V255.5h-1zM141 110.2h1V255.5h-1zM144 111.9h1V255.5h-1zM149 112.5h1V255.5h-1zM152 113.8h1V255.5h-1zM157 116.2h1V255.5h-1zM160 118.5h1V255.5h-1zM163 117.8h1V255.5h-1zM168 118.0h1V255.5h-1zM171 118.7h1V255.5h-1zM176 116.8h1V255.5h-1zM179 117.3h1V255.5h-1zM184 116.3h1V255.5h-1zM187 116.6h1V255.5h-1zM190 116.7h1V255.5h-1zM195 114.1h1V255.5h-1zM198 113.9h1V255.5h-1zM203 113.6h1V255.5h-1zM206 114.4h1V255.5h-1zM211 109.8h1V255.5h-1zM214 107.0h1V255.5h-1zM217 105.5h1V255.5h-1zM222 102.8h1V255.5h-1zM225 99.8h1V255.5h-1zM230 96.9h1V255.5h-1zM233 95.5h1V255.5h-1zM238 92.5h1V255.5h-1zM241 91.2h1V255.5h-1zM244 88.6h1V255.5h-1zM249 84.1h1V255.5h-1zM252 81.7h1V255.5h-1zM257 78.8h1V255.5h-1zM260 78.0h1V255.5h-1zM268 76.4h1V255.5h-1zM271 76.2h1V255.5h-1zM276 73.3h1V255.5h-1zM279 73.2h1V255.5h-1zM284 72.0h1V255.5h-1zM287 73.0h1V255.5h-1zM295 63.1h1V255.5h-1zM298 63.8h1V255.5h-1zM303 65.2h1V255.5h-1zM306 65.9h1V255.5h-1zM311 67.0h1V255.5h-1zM314 67.3h1V255.5h-1zM322 70.2h1V255.5h-1zM325 70.7h1V255.5h-1zM330 71.5h1V255.5h-1zM333 70.8h1V255.5h-1zM338 63.1h1V255.5h-1zM341 61.6h1V255.5h-1zM349 60.4h1V255.5h-1zM352 60.5h1V255.5h-1zM357 44.7h1V255.5h-1zM360 46.0h1V255.5h-1zM365 46.7h1V255.5h-1zM368 49.2h1V255.5h-1zM376 53.4h1V255.5h-1zM379 53.9h1V255.5h-1zM384 58.1h1V255.5h-1zM387 59.7h1V255.5h-1zM392 62.6h1V255.5h-1zM395 64.0h1V255.5h-1zM403 65.8h1V255.5h-1zM406 66.7h1V255.5h-1zM411 68.8h1V255.5h-1zM414 70.0h1V255.5h-1zM419 71.4h1V255.5h-1zM422 70.6h1V255.5h-1zM430 72.8h1V255.5h-1zM433 73.0h1V255.5h-1zM438 72.9h1V255.5h-1zM441 74.9h1V255.5h-1zM446 75.2h1V255.5h-1zM449 73.5h1V255.5h-1zM452 74.4h1V255.5h-1zM457 73.6h1V255.5h-1zM460 73.6h1V255.5h-1zM465 74.1h1V255.5h-1zM468 75.4h1V255.5h-1zM473 75.9h1V255.5h-1zM476 74.1h1V255.5h-1zM479 75.7h1V255.5h-1zM484 76.1h1V255.5h-1zM487 76.1h1V255.5h-1zM492 77.2h1V255.5h-1zM495 75.9h1V255.5h-1zM500 74.1h1V255.5h-1zM503 74.0h1V255.5h-1zM506 73.8h1V255.5h-1zM511 71.1h1V255.5h-1zM514 69.0h1V255.5h-1zM519 65.0h1V255.5h-1zM522 66.1h1V255.5h-1z" fill="#fff" fill-opacity="0.42"/>
<polyline points="67.60,113.92 69.19,113.92 70.78,112.50 72.36,111.75 73.95,110.47 75.54,110.38 77.13,108.60 78.72,109.69 80.30,112.62 81.89,112.22 83.48,112.35 85.07,110.66 86.66,109.63 88.24,108.95 89.83,108.32 91.42,107.43 93.01,107.48 94.60,106.47 96.18,106.82 97.77,107.14 99.36,107.03 100.95,108.65 102.54,109.05 104.12,108.33 105.71,108.51 107.30,109.85 108.89,110.62 110.48,110.34 112.06,112.19 113.65,112.52 115.24,113.14 116.83,113.43 118.42,113.36 120.00,114.62 121.59,115.50 123.18,114.52 124.77,115.74 126.36,116.10 127.94,117.08 129.53,117.30 131.12,117.67 132.71,118.23 134.30,120.16 135.88,121.32 137.47,120.02 139.06,120.88 140.65,121.47 142.24,122.87 143.82,124.59 145.41,124.13 147.00,124.89 148.59,125.88 150.18,126.29 151.76,127.31 153.35,128.53 154.94,128.46 156.53,129.60 158.12,129.55 159.70,130.46 161.29,130.56 162.88,130.87 164.47,131.16 166.06,132.14 167.64,131.57 169.23,132.87 170.82,131.64 172.41,131.54 174.00,130.08 175.58,131.38 177.17,132.39 178.76,132.31 180.35,130.03 181.94,131.19 183.52,130.38 185.11,132.32 186.70,131.22 188.29,130.14 189.88,129.69 191.46,129.25 193.05,129.02 194.64,117.56 196.23,116.81 197.82,117.30 199.40,117.81 200.99,117.00 202.58,118.03 204.17,117.53 205.76,118.17 207.34,118.71 208.93,116.98 210.52,115.22 212.11,115.01 213.70,112.67 215.28,112.01 216.87,112.04 218.46,110.56 220.05,109.09 221.64,108.77 223.22,106.40 224.81,105.82 226.40,104.89 227.99,103.47 229.58,103.10 231.16,102.60 232.75,101.78 234.34,100.31 235.93,99.21 237.52,98.76 239.10,98.05 240.69,97.22 242.28,95.38 243.87,94.57 245.46,94.03 247.04,92.62 248.63,90.69 250.22,90.62 251.81,89.56 253.40,88.41 254.98,87.97 256.57,86.02 258.16,86.60 259.75,85.08 261.34,86.30 262.92,87.00 264.51,85.74 266.10,86.22 267.69,84.52 269.28,83.68 270.86,83.63 272.45,82.82 274.04,81.44 275.63,81.53 277.22,80.70 278.80,80.22 280.39,79.29 281.98,80.00 283.57,79.41 285.16,78.54 286.74,81.03 288.33,80.54 289.92,75.26 291.51,72.18 293.10,70.29 294.68,72.24 296.27,73.76 297.86,73.93 299.45,72.86 301.04,74.49 302.62,75.69 304.21,76.09 305.80,76.12 307.39,75.56 308.98,76.55 310.56,76.39 312.15,76.84 313.74,76.89 315.33,77.90 316.92,76.98 318.50,78.07 320.09,78.07 321.68,76.21 323.27,72.70 324.86,73.14 326.44,73.61 328.03,73.74 329.62,73.87 331.21,73.92 332.80,74.40 334.38,74.38 335.97,74.58 337.56,75.44 339.15,67.94 340.74,65.51 342.32,64.41 343.91,65.80 345.50,65.96 347.09,66.92 348.68,65.78 350.26,67.14 351.85,66.21 353.44,68.83 355.03,49.58 356.62,49.12 358.20,49.49 359.79,49.52 361.38,49.67 362.97,50.72 364.56,51.30 366.14,51.81 367.73,53.20 369.32,54.16 370.91,54.78 372.50,56.49 374.08,57.33 375.67,59.01 377.26,59.61 378.85,62.14 380.44,60.03 382.02,62.23 383.61,62.62 385.20,64.10 386.79,63.75 388.38,65.06 389.96,66.79 391.55,67.37 393.14,67.36 394.73,67.98 396.32,67.34 397.90,68.04 399.49,69.28 401.08,69.49 402.67,69.78 404.26,71.52 405.84,71.27 407.43,72.35 409.02,71.58 410.61,72.74 412.20,73.01 413.78,73.96 415.37,73.45 416.96,73.38 418.55,73.01 420.14,74.51 421.72,74.02 423.31,75.50 424.90,75.66 426.49,75.24 428.08,74.87 429.66,76.36 431.25,75.31 432.84,77.06 434.43,77.04 436.02,76.63 437.60,78.59 439.19,77.61 440.78,78.17 442.37,77.90 443.96,77.63 445.54,78.22 447.13,78.32 448.72,77.84 450.31,77.78 451.90,78.35 453.48,77.97 455.07,78.44 456.66,77.02 458.25,78.37 459.84,77.88 461.42,77.30 463.01,77.96 464.60,78.70 466.19,79.11 467.78,77.86 469.36,76.29 470.95,76.73 472.54,77.06 474.13,75.91 475.72,77.81 477.30,77.88 478.89,78.08 480.48,78.03 482.07,78.24 483.66,78.78 485.24,78.60 486.83,79.06 488.42,79.85 490.01,81.27 491.60,79.98 493.18,81.17 494.77,80.92 496.36,79.58 497.95,79.03 499.54,77.73 501.12,77.23 502.71,77.36 504.30,76.97 505.89,77.48 507.48,77.10 509.06,76.66 510.65,75.09 512.24,73.70 513.83,73.00 515.42,72.62 517.00,71.03 518.59,69.94 520.18,68.53 521.77,68.34 523.36,69.15" fill="none" stroke="#f00" stroke-width="1.7" stroke-linejoin="round" stroke-linecap="square"/>
<rect x="44.4" y="6.7" width="502.1" height="248.8" fill="none" stroke="#000" stroke-width="0.75"/>
<path d="M44.4 255.50h-3.1M44.4 224.40h-3.1M44.4 193.30h-3.1M44.4 162.20h-3.1M44.4 131.10h-3.1M44.4 100.00h-3.1M44.4 68.90h-3.1M44.4 37.80h-3.1M44.4 6.70h-3.1M67.60 255.5v3.1M99.36 255.5v3.1M131.12 255.5v3.1M162.88 255.5v3.1M194.64 255.5v3.1M226.40 255.5v3.1M258.16 255.5v3.1M289.92 255.5v3.1M321.68 255.5v3.1M353.44 255.5v3.1M385.20 255.5v3.1M416.96 255.5v3.1M448.72 255.5v3.1M480.48 255.5v3.1M512.24 255.5v3.1" stroke="#000" stroke-width="0.75" fill="none"/>
<g font-family="'DejaVu Sans','Liberation Sans',sans-serif" font-size="8.85" fill="#000" stroke="#000" stroke-width="0.18">
<text x="37.80" y="258.70" text-anchor="end" font-size="8.5">0</text>
<text x="37.80" y="227.60" text-anchor="end" font-size="8.5">500</text>
<text x="37.80" y="196.50" text-anchor="end" font-size="8.5">1000</text>
<text x="37.80" y="165.40" text-anchor="end" font-size="8.5">1500</text>
<text x="37.80" y="134.30" text-anchor="end" font-size="8.5">2000</text>
<text x="37.80" y="103.20" text-anchor="end" font-size="8.5">2500</text>
<text x="37.80" y="72.10" text-anchor="end" font-size="8.5">3000</text>
<text x="37.80" y="41.00" text-anchor="end" font-size="8.5">3500</text>
<text x="37.80" y="9.90" text-anchor="end" font-size="8.5">4000</text>
<text x="67.20" y="269.2" text-anchor="middle" font-size="8.6">0</text>
<text x="98.96" y="269.2" text-anchor="middle" font-size="8.6">20</text>
<text x="130.72" y="269.2" text-anchor="middle" font-size="8.6">40</text>
<text x="162.48" y="269.2" text-anchor="middle" font-size="8.6">60</text>
<text x="194.24" y="269.2" text-anchor="middle" font-size="8.6">80</text>
<text x="226.00" y="269.2" text-anchor="middle" font-size="8.6">100</text>
<text x="257.76" y="269.2" text-anchor="middle" font-size="8.6">120</text>
<text x="289.52" y="269.2" text-anchor="middle" font-size="8.6">140</text>
<text x="321.28" y="269.2" text-anchor="middle" font-size="8.6">160</text>
<text x="353.04" y="269.2" text-anchor="middle" font-size="8.6">180</text>
<text x="384.80" y="269.2" text-anchor="middle" font-size="8.6">200</text>
<text x="416.56" y="269.2" text-anchor="middle" font-size="8.6">220</text>
<text x="448.32" y="269.2" text-anchor="middle" font-size="8.6">240</text>
<text x="480.08" y="269.2" text-anchor="middle" font-size="8.6">260</text>
<text x="511.84" y="269.2" text-anchor="middle" font-size="8.6">280</text>
<text x="295.4" y="281.2" text-anchor="middle">Scheduling steps</text>
<text transform="translate(10.1,132) rotate(-90)" text-anchor="middle">power/MW</text>
<rect x="140" y="10.9" width="310.6" height="29.3" rx="1.4" ry="1.4" fill="#fff" fill-opacity="0.8" stroke="#c8c8c8" stroke-opacity="0.9" stroke-width="0.8"/>
<path d="M143.5 18.4H162.6" stroke="#f00" stroke-width="1.5" fill="none"/>
<rect x="143.6" y="28.9" width="18.9" height="6.3" fill="rgb(255,0,0)" fill-opacity="0.53"/>
<rect x="254.1" y="15.3" width="18" height="6.3" fill="rgb(0,160,60)" fill-opacity="0.72"/>
<rect x="376" y="15.3" width="18" height="6.3" fill="rgb(0,0,255)" fill-opacity="0.52"/>
<text x="169.5" y="21.6">load_p</text>
<text x="169.5" y="35.2">thermal_gen_p</text>
<text x="279.5" y="21.6">renewable_gen_p</text>
<text x="401.5" y="21.6">bal_gen_p</text>
</g>
</svg>
</body></html>
